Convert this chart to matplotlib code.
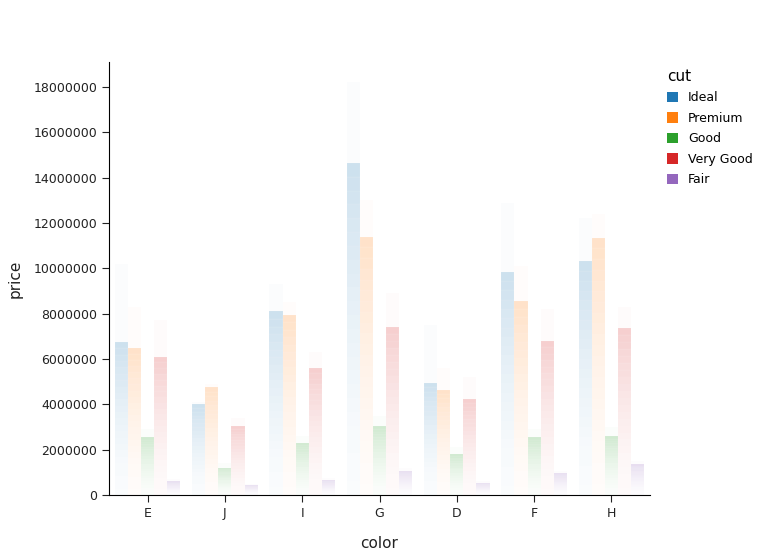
import numpy as np
import matplotlib

matplotlib.use("Agg")
import matplotlib.pyplot as plt

colors_cat = ["E", "J", "I", "G", "D", "F", "H"]
cuts = ["Ideal", "Premium", "Good", "Very Good", "Fair"]
palette = ["#1f77b4", "#ff7f0e", "#2ca02c", "#d62728", "#9467bd"]

# dense (visible) part of each stack, per cut, in color order
ideal_solid = [6.75e6, 4.0e6, 8.1e6, 14.65e6, 4.95e6, 9.85e6, 10.3e6]
premium_solid = [6.5e6, 4.75e6, 7.95e6, 11.4e6, 4.65e6, 8.55e6, 11.35e6]
good_solid = [2.55e6, 1.2e6, 2.3e6, 3.05e6, 1.8e6, 2.55e6, 2.6e6]
vgood_solid = [6.1e6, 3.05e6, 5.6e6, 7.4e6, 4.25e6, 6.8e6, 7.35e6]
fair_solid = [0.6e6, 0.45e6, 0.65e6, 1.05e6, 0.55e6, 0.95e6, 1.35e6]

# faint top of each stack (total price)
ideal_total = [10.2e6, 4.1e6, 9.3e6, 18.2e6, 7.5e6, 12.9e6, 12.2e6]
premium_total = [8.3e6, 4.9e6, 8.5e6, 13.0e6, 5.6e6, 10.1e6, 12.4e6]
good_total = [2.9e6, 1.4e6, 2.6e6, 3.5e6, 2.1e6, 2.9e6, 3.0e6]
vgood_total = [7.7e6, 3.4e6, 6.3e6, 8.9e6, 5.2e6, 8.2e6, 8.3e6]
fair_total = [0.7e6, 0.5e6, 0.75e6, 1.2e6, 0.6e6, 1.05e6, 1.5e6]

solids = [ideal_solid, premium_solid, good_solid, vgood_solid, fair_solid]
totals = [ideal_total, premium_total, good_total, vgood_total, fair_total]

fig = plt.figure(figsize=(7.84, 5.52), dpi=100)
ax = fig.add_axes([109 / 784, 57 / 552, 541 / 784, 433 / 552])

x = np.arange(len(colors_cat))
w = 0.17
nseg = 24
for k, (cut, col) in enumerate(zip(cuts, palette)):
    xs = x + (k - 2) * w
    for i, xi in enumerate(xs):
        s, t = solids[k][i], totals[k][i]
        edges = np.linspace(0, s, nseg + 1)
        for j in range(nseg):
            a = 0.02 + 0.2 * (j / (nseg - 1)) ** 1.5
            ax.bar(xi, edges[j + 1] - edges[j], bottom=edges[j], width=w, color=col,
                   alpha=a, edgecolor="white", linewidth=0.3)
        if t > s:
            ax.bar(xi, t - s, bottom=s, width=w, color=col, alpha=0.015, linewidth=0)
    ax.bar(0, 0, color=col, label=cut)

ax.set_xlim(-0.5, 6.5)
ax.set_ylim(0, 19.1e6)
ax.set_xticks(x)
ax.set_xticklabels(colors_cat)
ax.set_yticks(np.arange(0, 18e6 + 1, 2e6))
ax.set_yticklabels([f"{int(v)}" for v in np.arange(0, 18e6 + 1, 2e6)])
for sp in ["top", "right"]:
    ax.spines[sp].set_visible(False)
ax.tick_params(labelsize=9, colors="#222222", length=5)
ax.set_xlabel("color", fontsize=11, labelpad=12, color="#222222")
ax.set_ylabel("price", fontsize=11, labelpad=8, color="#222222")

leg = ax.legend(title="cut", loc="upper left", bbox_to_anchor=(1.01, 1.01), frameon=False,
                fontsize=9, title_fontsize=11, handlelength=0.9, handleheight=0.9,
                labelspacing=0.6, alignment="left")
for h in leg.legend_handles:
    h.set_alpha(1)

fig.savefig("out.png", dpi=100)
